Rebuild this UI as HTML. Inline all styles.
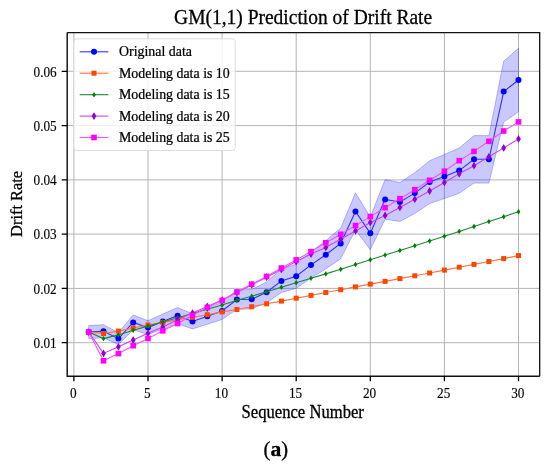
<!DOCTYPE html>
<html><head><meta charset="utf-8"><title>GM(1,1) Prediction of Drift Rate</title>
<style>html,body{margin:0;padding:0;background:#fff}svg{display:block;filter:blur(0.45px)}</style></head>
<body>
<svg width="550" height="469" viewBox="0 0 550 469">
<rect width="550" height="469" fill="#fff"/>
<path d="M73.9 32.6V376.2M148.0 32.6V376.2M222.1 32.6V376.2M296.2 32.6V376.2M370.3 32.6V376.2M444.4 32.6V376.2M518.5 32.6V376.2M67.2 342.7H539.7M67.2 288.4H539.7M67.2 234.1H539.7M67.2 179.9H539.7M67.2 125.6H539.7M67.2 71.3H539.7" stroke="#b4b4b4" stroke-width="1" fill="none"/>
<polygon points="88.7,325.6 103.5,324.7 118.4,332.7 133.2,314.9 148.0,320.7 162.8,314.0 177.6,307.6 192.5,313.8 207.3,308.1 222.1,302.3 236.9,289.7 251.7,289.5 266.6,281.9 281.4,269.3 296.2,264.2 311.0,251.7 325.8,240.5 340.7,228.1 355.5,192.8 370.3,217.0 385.1,179.6 399.9,182.5 414.8,172.7 429.6,160.7 444.4,154.5 459.2,148.0 474.0,135.6 488.9,135.6 503.7,61.1 518.5,48.3 518.5,111.7 503.7,122.1 488.9,183.1 474.0,183.1 459.2,193.3 444.4,198.6 429.6,203.6 414.8,213.5 399.9,221.5 385.1,219.2 370.3,249.7 355.5,230.0 340.7,258.8 325.8,268.9 311.0,278.1 296.2,288.4 281.4,292.5 266.6,302.8 251.7,309.0 236.9,309.2 222.1,319.5 207.3,324.3 192.5,328.9 177.6,323.8 162.8,329.1 148.0,334.5 133.2,329.9 118.4,344.4 103.5,337.9 88.7,338.6" fill="#0000ff" fill-opacity="0.21" stroke="#0000ff" stroke-opacity="0.25" stroke-width="1"/>
<polyline points="88.7,332.1 103.5,331.3 118.4,338.5 133.2,322.4 148.0,327.6 162.8,321.5 177.6,315.7 192.5,321.4 207.3,316.2 222.1,310.9 236.9,299.5 251.7,299.3 266.6,292.3 281.4,280.9 296.2,276.3 311.0,264.9 325.8,254.7 340.7,243.5 355.5,211.4 370.3,233.3 385.1,199.4 399.9,202.0 414.8,193.1 429.6,182.1 444.4,176.5 459.2,170.6 474.0,159.3 488.9,159.3 503.7,91.6 518.5,80.0" fill="none" stroke="#3232ff" stroke-width="1.1"/>
<circle cx="88.7" cy="332.1" r="3" fill="#0000ff"/><circle cx="103.5" cy="331.3" r="3" fill="#0000ff"/><circle cx="118.4" cy="338.5" r="3" fill="#0000ff"/><circle cx="133.2" cy="322.4" r="3" fill="#0000ff"/><circle cx="148.0" cy="327.6" r="3" fill="#0000ff"/><circle cx="162.8" cy="321.5" r="3" fill="#0000ff"/><circle cx="177.6" cy="315.7" r="3" fill="#0000ff"/><circle cx="192.5" cy="321.4" r="3" fill="#0000ff"/><circle cx="207.3" cy="316.2" r="3" fill="#0000ff"/><circle cx="222.1" cy="310.9" r="3" fill="#0000ff"/><circle cx="236.9" cy="299.5" r="3" fill="#0000ff"/><circle cx="251.7" cy="299.3" r="3" fill="#0000ff"/><circle cx="266.6" cy="292.3" r="3" fill="#0000ff"/><circle cx="281.4" cy="280.9" r="3" fill="#0000ff"/><circle cx="296.2" cy="276.3" r="3" fill="#0000ff"/><circle cx="311.0" cy="264.9" r="3" fill="#0000ff"/><circle cx="325.8" cy="254.7" r="3" fill="#0000ff"/><circle cx="340.7" cy="243.5" r="3" fill="#0000ff"/><circle cx="355.5" cy="211.4" r="3" fill="#0000ff"/><circle cx="370.3" cy="233.3" r="3" fill="#0000ff"/><circle cx="385.1" cy="199.4" r="3" fill="#0000ff"/><circle cx="399.9" cy="202.0" r="3" fill="#0000ff"/><circle cx="414.8" cy="193.1" r="3" fill="#0000ff"/><circle cx="429.6" cy="182.1" r="3" fill="#0000ff"/><circle cx="444.4" cy="176.5" r="3" fill="#0000ff"/><circle cx="459.2" cy="170.6" r="3" fill="#0000ff"/><circle cx="474.0" cy="159.3" r="3" fill="#0000ff"/><circle cx="488.9" cy="159.3" r="3" fill="#0000ff"/><circle cx="503.7" cy="91.6" r="3" fill="#0000ff"/><circle cx="518.5" cy="80.0" r="3" fill="#0000ff"/>
<polyline points="88.7,332.1 103.5,333.5 118.4,331.1 133.2,328.0 148.0,325.0 162.8,322.4 177.6,319.9 192.5,317.3 207.3,314.7 222.1,311.9 236.9,309.5 251.7,306.7 266.6,303.8 281.4,301.1 296.2,298.2 311.0,295.4 325.8,292.5 340.7,289.7 355.5,286.9 370.3,284.1 385.1,281.4 399.9,278.6 414.8,275.8 429.6,273.0 444.4,270.1 459.2,267.2 474.0,264.4 488.9,261.5 503.7,258.6 518.5,255.6" fill="none" stroke="#ff7440" stroke-width="1.1"/>
<rect x="86.2" y="329.6" width="5" height="5" fill="#ff4500"/><rect x="101.0" y="331.0" width="5" height="5" fill="#ff4500"/><rect x="115.9" y="328.6" width="5" height="5" fill="#ff4500"/><rect x="130.7" y="325.5" width="5" height="5" fill="#ff4500"/><rect x="145.5" y="322.5" width="5" height="5" fill="#ff4500"/><rect x="160.3" y="319.9" width="5" height="5" fill="#ff4500"/><rect x="175.1" y="317.4" width="5" height="5" fill="#ff4500"/><rect x="190.0" y="314.8" width="5" height="5" fill="#ff4500"/><rect x="204.8" y="312.2" width="5" height="5" fill="#ff4500"/><rect x="219.6" y="309.4" width="5" height="5" fill="#ff4500"/><rect x="234.4" y="307.0" width="5" height="5" fill="#ff4500"/><rect x="249.2" y="304.2" width="5" height="5" fill="#ff4500"/><rect x="264.1" y="301.3" width="5" height="5" fill="#ff4500"/><rect x="278.9" y="298.6" width="5" height="5" fill="#ff4500"/><rect x="293.7" y="295.7" width="5" height="5" fill="#ff4500"/><rect x="308.5" y="292.9" width="5" height="5" fill="#ff4500"/><rect x="323.3" y="290.0" width="5" height="5" fill="#ff4500"/><rect x="338.2" y="287.2" width="5" height="5" fill="#ff4500"/><rect x="353.0" y="284.4" width="5" height="5" fill="#ff4500"/><rect x="367.8" y="281.6" width="5" height="5" fill="#ff4500"/><rect x="382.6" y="278.9" width="5" height="5" fill="#ff4500"/><rect x="397.4" y="276.1" width="5" height="5" fill="#ff4500"/><rect x="412.3" y="273.3" width="5" height="5" fill="#ff4500"/><rect x="427.1" y="270.5" width="5" height="5" fill="#ff4500"/><rect x="441.9" y="267.6" width="5" height="5" fill="#ff4500"/><rect x="456.7" y="264.7" width="5" height="5" fill="#ff4500"/><rect x="471.5" y="261.9" width="5" height="5" fill="#ff4500"/><rect x="486.4" y="259.0" width="5" height="5" fill="#ff4500"/><rect x="501.2" y="256.1" width="5" height="5" fill="#ff4500"/><rect x="516.0" y="253.1" width="5" height="5" fill="#ff4500"/>
<polyline points="88.7,332.1 103.5,338.6 118.4,334.9 133.2,330.2 148.0,326.1 162.8,322.0 177.6,317.7 192.5,313.5 207.3,309.2 222.1,305.0 236.9,300.2 251.7,296.2 266.6,291.8 281.4,287.3 296.2,282.7 311.0,278.3 325.8,273.9 340.7,269.2 355.5,264.5 370.3,259.8 385.1,255.1 399.9,250.5 414.8,245.8 429.6,241.0 444.4,236.2 459.2,231.4 474.0,226.5 488.9,221.6 503.7,216.7 518.5,211.7" fill="none" stroke="#1a8a2a" stroke-width="1.1"/>
<path d="M88.7 329.4L90.6 332.1L88.7 334.8L86.8 332.1Z" fill="#008000"/><path d="M103.5 335.9L105.4 338.6L103.5 341.3L101.6 338.6Z" fill="#008000"/><path d="M118.4 332.2L120.3 334.9L118.4 337.6L116.5 334.9Z" fill="#008000"/><path d="M133.2 327.5L135.1 330.2L133.2 332.9L131.3 330.2Z" fill="#008000"/><path d="M148.0 323.4L149.9 326.1L148.0 328.8L146.1 326.1Z" fill="#008000"/><path d="M162.8 319.3L164.7 322.0L162.8 324.7L160.9 322.0Z" fill="#008000"/><path d="M177.6 315.0L179.5 317.7L177.6 320.4L175.7 317.7Z" fill="#008000"/><path d="M192.5 310.8L194.4 313.5L192.5 316.2L190.6 313.5Z" fill="#008000"/><path d="M207.3 306.5L209.2 309.2L207.3 311.9L205.4 309.2Z" fill="#008000"/><path d="M222.1 302.3L224.0 305.0L222.1 307.7L220.2 305.0Z" fill="#008000"/><path d="M236.9 297.5L238.8 300.2L236.9 302.9L235.0 300.2Z" fill="#008000"/><path d="M251.7 293.5L253.6 296.2L251.7 298.9L249.8 296.2Z" fill="#008000"/><path d="M266.6 289.1L268.5 291.8L266.6 294.5L264.7 291.8Z" fill="#008000"/><path d="M281.4 284.6L283.3 287.3L281.4 290.0L279.5 287.3Z" fill="#008000"/><path d="M296.2 280.0L298.1 282.7L296.2 285.4L294.3 282.7Z" fill="#008000"/><path d="M311.0 275.6L312.9 278.3L311.0 281.0L309.1 278.3Z" fill="#008000"/><path d="M325.8 271.2L327.7 273.9L325.8 276.6L323.9 273.9Z" fill="#008000"/><path d="M340.7 266.5L342.6 269.2L340.7 271.9L338.8 269.2Z" fill="#008000"/><path d="M355.5 261.8L357.4 264.5L355.5 267.2L353.6 264.5Z" fill="#008000"/><path d="M370.3 257.1L372.2 259.8L370.3 262.5L368.4 259.8Z" fill="#008000"/><path d="M385.1 252.4L387.0 255.1L385.1 257.8L383.2 255.1Z" fill="#008000"/><path d="M399.9 247.8L401.8 250.5L399.9 253.2L398.0 250.5Z" fill="#008000"/><path d="M414.8 243.1L416.7 245.8L414.8 248.5L412.9 245.8Z" fill="#008000"/><path d="M429.6 238.3L431.5 241.0L429.6 243.7L427.7 241.0Z" fill="#008000"/><path d="M444.4 233.5L446.3 236.2L444.4 238.9L442.5 236.2Z" fill="#008000"/><path d="M459.2 228.7L461.1 231.4L459.2 234.1L457.3 231.4Z" fill="#008000"/><path d="M474.0 223.8L475.9 226.5L474.0 229.2L472.1 226.5Z" fill="#008000"/><path d="M488.9 218.9L490.8 221.6L488.9 224.3L487.0 221.6Z" fill="#008000"/><path d="M503.7 214.0L505.6 216.7L503.7 219.4L501.8 216.7Z" fill="#008000"/><path d="M518.5 209.0L520.4 211.7L518.5 214.4L516.6 211.7Z" fill="#008000"/>
<polyline points="88.7,332.1 103.5,353.4 118.4,346.8 133.2,340.1 148.0,333.3 162.8,326.9 177.6,319.7 192.5,313.1 207.3,306.4 222.1,300.1 236.9,292.6 251.7,284.9 266.6,277.2 281.4,269.4 296.2,261.5 311.0,254.0 325.8,247.4 340.7,239.0 355.5,230.9 370.3,222.4 385.1,215.4 399.9,207.4 414.8,199.2 429.6,191.0 444.4,182.4 459.2,173.8 474.0,165.7 488.9,156.8 503.7,147.9 518.5,138.9" fill="none" stroke="#cc44ee" stroke-width="1.1"/>
<path d="M88.7 328.2L91.1 332.1L88.7 336.0L86.3 332.1Z" fill="#9400d3"/><path d="M103.5 349.5L105.9 353.4L103.5 357.3L101.1 353.4Z" fill="#9400d3"/><path d="M118.4 342.9L120.8 346.8L118.4 350.7L116.0 346.8Z" fill="#9400d3"/><path d="M133.2 336.2L135.6 340.1L133.2 344.0L130.8 340.1Z" fill="#9400d3"/><path d="M148.0 329.4L150.4 333.3L148.0 337.2L145.6 333.3Z" fill="#9400d3"/><path d="M162.8 323.0L165.2 326.9L162.8 330.8L160.4 326.9Z" fill="#9400d3"/><path d="M177.6 315.8L180.0 319.7L177.6 323.6L175.2 319.7Z" fill="#9400d3"/><path d="M192.5 309.2L194.9 313.1L192.5 317.0L190.1 313.1Z" fill="#9400d3"/><path d="M207.3 302.5L209.7 306.4L207.3 310.3L204.9 306.4Z" fill="#9400d3"/><path d="M222.1 296.2L224.5 300.1L222.1 304.0L219.7 300.1Z" fill="#9400d3"/><path d="M236.9 288.7L239.3 292.6L236.9 296.5L234.5 292.6Z" fill="#9400d3"/><path d="M251.7 281.0L254.1 284.9L251.7 288.8L249.3 284.9Z" fill="#9400d3"/><path d="M266.6 273.3L269.0 277.2L266.6 281.1L264.2 277.2Z" fill="#9400d3"/><path d="M281.4 265.5L283.8 269.4L281.4 273.3L279.0 269.4Z" fill="#9400d3"/><path d="M296.2 257.6L298.6 261.5L296.2 265.4L293.8 261.5Z" fill="#9400d3"/><path d="M311.0 250.1L313.4 254.0L311.0 257.9L308.6 254.0Z" fill="#9400d3"/><path d="M325.8 243.5L328.2 247.4L325.8 251.3L323.4 247.4Z" fill="#9400d3"/><path d="M340.7 235.1L343.1 239.0L340.7 242.9L338.3 239.0Z" fill="#9400d3"/><path d="M355.5 227.0L357.9 230.9L355.5 234.8L353.1 230.9Z" fill="#9400d3"/><path d="M370.3 218.5L372.7 222.4L370.3 226.3L367.9 222.4Z" fill="#9400d3"/><path d="M385.1 211.5L387.5 215.4L385.1 219.3L382.7 215.4Z" fill="#9400d3"/><path d="M399.9 203.5L402.3 207.4L399.9 211.3L397.5 207.4Z" fill="#9400d3"/><path d="M414.8 195.3L417.2 199.2L414.8 203.1L412.4 199.2Z" fill="#9400d3"/><path d="M429.6 187.1L432.0 191.0L429.6 194.9L427.2 191.0Z" fill="#9400d3"/><path d="M444.4 178.5L446.8 182.4L444.4 186.3L442.0 182.4Z" fill="#9400d3"/><path d="M459.2 169.9L461.6 173.8L459.2 177.7L456.8 173.8Z" fill="#9400d3"/><path d="M474.0 161.8L476.4 165.7L474.0 169.6L471.6 165.7Z" fill="#9400d3"/><path d="M488.9 152.9L491.3 156.8L488.9 160.7L486.5 156.8Z" fill="#9400d3"/><path d="M503.7 144.0L506.1 147.9L503.7 151.8L501.3 147.9Z" fill="#9400d3"/><path d="M518.5 135.0L520.9 138.9L518.5 142.8L516.1 138.9Z" fill="#9400d3"/>
<polyline points="88.7,332.1 103.5,360.8 118.4,353.6 133.2,345.7 148.0,338.4 162.8,330.8 177.6,323.5 192.5,315.3 207.3,307.4 222.1,300.5 236.9,292.0 251.7,284.2 266.6,276.4 281.4,268.0 296.2,259.9 311.0,251.6 325.8,242.8 340.7,234.3 355.5,225.6 370.3,216.6 385.1,207.7 399.9,198.7 414.8,189.7 429.6,180.3 444.4,171.2 459.2,160.7 474.0,151.4 488.9,141.3 503.7,131.0 518.5,121.9" fill="none" stroke="#ff4dff" stroke-width="1.1"/>
<rect x="85.9" y="329.3" width="5.6" height="5.6" fill="#ff00ff"/><rect x="100.7" y="358.0" width="5.6" height="5.6" fill="#ff00ff"/><rect x="115.6" y="350.8" width="5.6" height="5.6" fill="#ff00ff"/><rect x="130.4" y="342.9" width="5.6" height="5.6" fill="#ff00ff"/><rect x="145.2" y="335.6" width="5.6" height="5.6" fill="#ff00ff"/><rect x="160.0" y="328.0" width="5.6" height="5.6" fill="#ff00ff"/><rect x="174.8" y="320.7" width="5.6" height="5.6" fill="#ff00ff"/><rect x="189.7" y="312.5" width="5.6" height="5.6" fill="#ff00ff"/><rect x="204.5" y="304.6" width="5.6" height="5.6" fill="#ff00ff"/><rect x="219.3" y="297.7" width="5.6" height="5.6" fill="#ff00ff"/><rect x="234.1" y="289.2" width="5.6" height="5.6" fill="#ff00ff"/><rect x="248.9" y="281.4" width="5.6" height="5.6" fill="#ff00ff"/><rect x="263.8" y="273.6" width="5.6" height="5.6" fill="#ff00ff"/><rect x="278.6" y="265.2" width="5.6" height="5.6" fill="#ff00ff"/><rect x="293.4" y="257.1" width="5.6" height="5.6" fill="#ff00ff"/><rect x="308.2" y="248.8" width="5.6" height="5.6" fill="#ff00ff"/><rect x="323.0" y="240.0" width="5.6" height="5.6" fill="#ff00ff"/><rect x="337.9" y="231.5" width="5.6" height="5.6" fill="#ff00ff"/><rect x="352.7" y="222.8" width="5.6" height="5.6" fill="#ff00ff"/><rect x="367.5" y="213.8" width="5.6" height="5.6" fill="#ff00ff"/><rect x="382.3" y="204.9" width="5.6" height="5.6" fill="#ff00ff"/><rect x="397.1" y="195.9" width="5.6" height="5.6" fill="#ff00ff"/><rect x="412.0" y="186.9" width="5.6" height="5.6" fill="#ff00ff"/><rect x="426.8" y="177.5" width="5.6" height="5.6" fill="#ff00ff"/><rect x="441.6" y="168.4" width="5.6" height="5.6" fill="#ff00ff"/><rect x="456.4" y="157.9" width="5.6" height="5.6" fill="#ff00ff"/><rect x="471.2" y="148.6" width="5.6" height="5.6" fill="#ff00ff"/><rect x="486.1" y="138.5" width="5.6" height="5.6" fill="#ff00ff"/><rect x="500.9" y="128.2" width="5.6" height="5.6" fill="#ff00ff"/><rect x="515.7" y="119.1" width="5.6" height="5.6" fill="#ff00ff"/>
<path d="M67.2 32.6H539.7V376.2" stroke="#111" stroke-width="1.3" fill="none"/>
<path d="M67.2 32.6V376.2H539.7" stroke="#111" stroke-width="1.45" fill="none"/>
<path d="M73.9 376.2v5M148.0 376.2v5M222.1 376.2v5M296.2 376.2v5M370.3 376.2v5M444.4 376.2v5M518.5 376.2v5M67.2 342.7h-5.5M67.2 288.4h-5.5M67.2 234.1h-5.5M67.2 179.9h-5.5M67.2 125.6h-5.5M67.2 71.3h-5.5" stroke="#000" stroke-width="1.3" fill="none"/>
<g font-family="'Liberation Serif', serif" font-size="15.5" fill="#000" stroke="#000" stroke-width="0.15">
<text transform="translate(73.2 397.5) scale(0.855 1)" text-anchor="middle">0</text>
<text transform="translate(147.3 397.5) scale(0.855 1)" text-anchor="middle">5</text>
<text transform="translate(221.4 397.5) scale(0.855 1)" text-anchor="middle">10</text>
<text transform="translate(295.5 397.5) scale(0.855 1)" text-anchor="middle">15</text>
<text transform="translate(369.6 397.5) scale(0.855 1)" text-anchor="middle">20</text>
<text transform="translate(443.7 397.5) scale(0.855 1)" text-anchor="middle">25</text>
<text transform="translate(517.8 397.5) scale(0.855 1)" text-anchor="middle">30</text>
<text transform="translate(56.7 347.9) scale(0.855 1)" text-anchor="end">0.01</text>
<text transform="translate(56.7 293.6) scale(0.855 1)" text-anchor="end">0.02</text>
<text transform="translate(56.7 239.3) scale(0.855 1)" text-anchor="end">0.03</text>
<text transform="translate(56.7 185.1) scale(0.855 1)" text-anchor="end">0.04</text>
<text transform="translate(56.7 130.8) scale(0.855 1)" text-anchor="end">0.05</text>
<text transform="translate(56.7 76.5) scale(0.855 1)" text-anchor="end">0.06</text>
</g>
<g font-family="'Liberation Serif', serif" fill="#000" stroke="#000" stroke-width="0.3">
<text transform="translate(303.1 23.6) scale(0.928 1)" font-size="21" text-anchor="middle">GM(1,1) Prediction of Drift Rate</text>
<text transform="translate(302.7 417.6) scale(0.934 1)" font-size="17.8" text-anchor="middle">Sequence Number</text>
<text transform="translate(21.5 203.9) rotate(-90) scale(0.943 1)" font-size="17.4" text-anchor="middle">Drift Rate</text>
<text x="275.8" y="456.3" font-size="20.6" text-anchor="middle">(<tspan font-weight="bold" font-size="21.6">a</tspan>)</text>
</g>
<rect x="73.8" y="38.8" width="161.4" height="111.7" rx="3" fill="#fff" fill-opacity="0.8" stroke="#dcdcdc" stroke-width="1"/>
<g font-family="'Liberation Serif', serif" font-size="15" fill="#000">
<path d="M79.7 51.8H108.4" stroke="#3232ff" stroke-width="1.1"/>
<circle cx="94.0" cy="51.8" r="3" fill="#0000ff"/>
<text transform="translate(119 56.2) scale(0.927 1)" stroke="#000" stroke-width="0.25">Original data</text>
<path d="M79.7 73.2H108.4" stroke="#ff7440" stroke-width="1.1"/>
<rect x="91.5" y="70.7" width="5" height="5" fill="#ff4500"/>
<text transform="translate(119 77.6) scale(0.927 1)" stroke="#000" stroke-width="0.25">Modeling data is 10</text>
<path d="M79.7 94.7H108.4" stroke="#1a8a2a" stroke-width="1.1"/>
<path d="M94.0 92.0L95.9 94.7L94.0 97.4L92.1 94.7Z" fill="#008000"/>
<text transform="translate(119 99.1) scale(0.927 1)" stroke="#000" stroke-width="0.25">Modeling data is 15</text>
<path d="M79.7 116.1H108.4" stroke="#cc44ee" stroke-width="1.1"/>
<path d="M94.0 112.2L96.4 116.1L94.0 120.0L91.6 116.1Z" fill="#9400d3"/>
<text transform="translate(119 120.5) scale(0.927 1)" stroke="#000" stroke-width="0.25">Modeling data is 20</text>
<path d="M79.7 137.5H108.4" stroke="#ff4dff" stroke-width="1.1"/>
<rect x="91.2" y="134.7" width="5.6" height="5.6" fill="#ff00ff"/>
<text transform="translate(119 141.9) scale(0.927 1)" stroke="#000" stroke-width="0.25">Modeling data is 25</text>
</g>
</svg>
</body></html>
